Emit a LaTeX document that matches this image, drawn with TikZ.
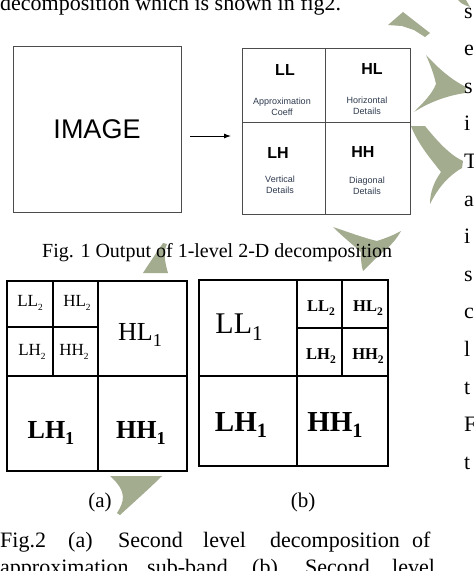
\documentclass[tikz,border=0pt]{standalone}
\usepackage{fontspec}
\usepackage{graphicx}
\setmainfont{Liberation Serif}
\newfontfamily\arialf{Liberation Sans}
\usetikzlibrary{arrows.meta}
\definecolor{wmcol}{HTML}{A3AC8F}
\definecolor{smalltxt}{HTML}{2E3A4E}
\newcommand{\dnsub}[2][0.7]{\raisebox{-0.22em}{\scalebox{#1}{#2}}}
\newcommand{\fs}[1]{\fontsize{#1}{#1}\selectfont}
\begin{document}
\begin{tikzpicture}[x=1pt,y=-1pt,
  thinbox/.style={draw=black!70, line width=0.8pt},
  gridline/.style={draw=black, line width=1.2pt},
  wm/.style={fill=wmcol, draw=none},
  txt/.style={inner sep=0pt, anchor=base west, font=\fs{22}},
  big/.style={inner sep=0pt, font=\fs{26}},
  bigb/.style={inner sep=0pt, font=\fs{26}\bfseries},
  bigbb/.style={inner sep=0pt, font=\fs{29}\bfseries},
  sml/.style={inner sep=0pt, font=\fs{17}},
  smlb/.style={inner sep=0pt, font=\fs{16.5}\bfseries},
  cellhead/.style={inner sep=0pt, font=\arialf\bfseries\fs{16}},
  celltxt/.style={inner sep=0pt, align=center, text=smalltxt, font=\arialf\fs{9}\linespread{1.25}\selectfont}
]
\useasboundingbox (0,0) rectangle (474,571);
\clip (0,0) rectangle (474,571);
\fill[white] (0,0) rectangle (474,571);

% watermark
\fill[wm] (388,25) -- (403,12) -- (430,33) -- (425,37) -- (414,30) -- (402,26) -- cycle;
\fill[wm] (458,0) .. controls (462,4) .. (470,7) -- (466,0) -- cycle;
\fill[wm] (426,55) .. controls (440,70) and (452,80) .. (466,87) -- (465,93) .. controls (445,96) and (428,103) .. (414,112) .. controls (424,102) and (432,94) .. (436,84) .. controls (434,74) and (430,64) .. (426,55) -- cycle;
\fill[wm] (411,126) -- (425,126) .. controls (438,142) and (450,155) .. (463,161) -- (462,168) .. controls (448,176) and (438,188) .. (430,204) .. controls (430,192) and (434,182) .. (441,172) .. controls (430,158) and (418,144) .. (411,126) -- cycle;
\fill[wm] (143,273) .. controls (150,262) and (157,252) .. (163,243) -- (167,244) .. controls (163,252) and (165,263) .. (168,273) -- cycle;
\fill[wm] (333,227) .. controls (348,232) and (364,238) .. (377,241) .. controls (386,238) and (394,235) .. (401,231) .. controls (396,240) and (390,246) .. (385,250) .. controls (377,257) and (370,264) .. (363,271) .. controls (361,265) and (361,258) .. (361,252) .. controls (352,244) and (342,236) .. (333,227) -- cycle;
\fill[wm] (110,476) -- (162,476) .. controls (150,488) and (133,503) .. (120,515) -- (117,513) .. controls (124,502) and (128,492) .. (110,476) -- cycle;

% top text
\node[txt] (toptxt) at (0,10) {decomposition which is shown in fig2.};

% right column letters
\foreach \ch [count=\k from 0] in {s,e,s,i,T,a,i,s,c,l,t,F,t} {
  \node[txt] (rc\k) at (464,18+37.6*\k) {\ch};
}

% fig 1
\node[thinbox, minimum width=168pt, minimum height=166pt, inner sep=0pt,
      font=\arialf\fs{27}] (img) at (97,129) {IMAGE};
\coordinate (arrs) at (190,136);
\coordinate (arre) at (231,136);
\draw[line width=0.9pt, -{Latex[length=7pt,width=5pt]}] (arrs) -- (arre);

\draw[thinbox] (242,48) rectangle (410,214);
\draw[thinbox] (325,48) -- (325,214);
\draw[thinbox] (242,122) -- (410,122);
\node[cellhead] (ll) at (285,70) {LL};
\node[celltxt] (llt) at (282,107) {Approximation\\Coeff};
\node[cellhead] (hl) at (372,69) {HL};
\node[celltxt] (hlt) at (367,106) {Horizontal\\Details};
\node[cellhead] (lh) at (278,153) {LH};
\node[celltxt] (lht) at (280,185) {Vertical\\Details};
\node[cellhead] (hh) at (363,152) {HH};
\node[celltxt] (hht) at (367,186) {Diagonal\\Details};

\node[inner sep=0pt, anchor=base west, font=\fs{20}] (cap1) at (42,257) {Fig. 1 Output of 1-level 2-D decomposition};

% fig 2 (a)
\draw[gridline] (7,281) rectangle (187,471);
\draw[gridline] (98,281) -- (98,471);
\draw[gridline] (7,376) -- (187,376);
\draw[gridline] (53,281) -- (53,376);
\draw[gridline] (7,327) -- (98,327);
\node[sml] (all2) at (30,303) {LL\dnsub[0.55]{2}};
\node[sml] (ahl2) at (77,303) {HL\dnsub[0.55]{2}};
\node[sml] (alh2) at (32,352) {LH\dnsub[0.55]{2}};
\node[sml] (ahh2) at (74,352) {HH\dnsub[0.55]{2}};
\node[big] (ahl1) at (140,335) {HL\dnsub{1}};
\node[bigb] (alh1) at (51,433) {LH\dnsub{1}};
\node[bigb] (ahh1) at (141,433) {HH\dnsub{1}};

% fig 2 (b)
\draw[gridline] (199,280) rectangle (388,466);
\draw[gridline] (297,280) -- (297,466);
\draw[gridline] (199,376) -- (388,376);
\draw[gridline] (342,280) -- (342,376);
\draw[gridline] (297,328) -- (388,328);
\node[inner sep=0pt, font=\fs{30}] (bll1) at (239,327) {LL\dnsub{1}};
\node[smlb] (bll2) at (321,308) {LL\dnsub{2}};
\node[smlb] (bhl2) at (368,308) {HL\dnsub{2}};
\node[smlb] (blh2) at (321,356) {LH\dnsub{2}};
\node[smlb] (bhh2) at (368,356) {HH\dnsub{2}};
\node[bigbb] (blh1) at (241,425) {LH\dnsub{1}};
\node[bigbb] (bhh1) at (335,425) {HH\dnsub{1}};

\node[inner sep=0pt, anchor=base, font=\fs{21}] (labA) at (100,507) {(a)};
\node[inner sep=0pt, anchor=base, font=\fs{21}] (labB) at (303,507) {(b)};

% caption fig 2
\node[txt] (c1) at (0,547) {Fig.2};
\node[txt] (c2) at (68,547) {(a)};
\node[txt] (c3) at (118,547) {Second};
\node[txt] (c4) at (203,547) {level};
\node[txt] (c5) at (270,547) {decomposition};
\node[txt] (c6) at (412,547) {of};
\node[txt] (d1) at (0,574) {approximation};
\node[txt] (d2) at (147,574) {sub-band.};
\node[txt] (d3) at (252,574) {(b)};
\node[txt] (d4) at (305,574) {Second};
\node[txt] (d5) at (392,574) {level};
\end{tikzpicture}
\end{document}
